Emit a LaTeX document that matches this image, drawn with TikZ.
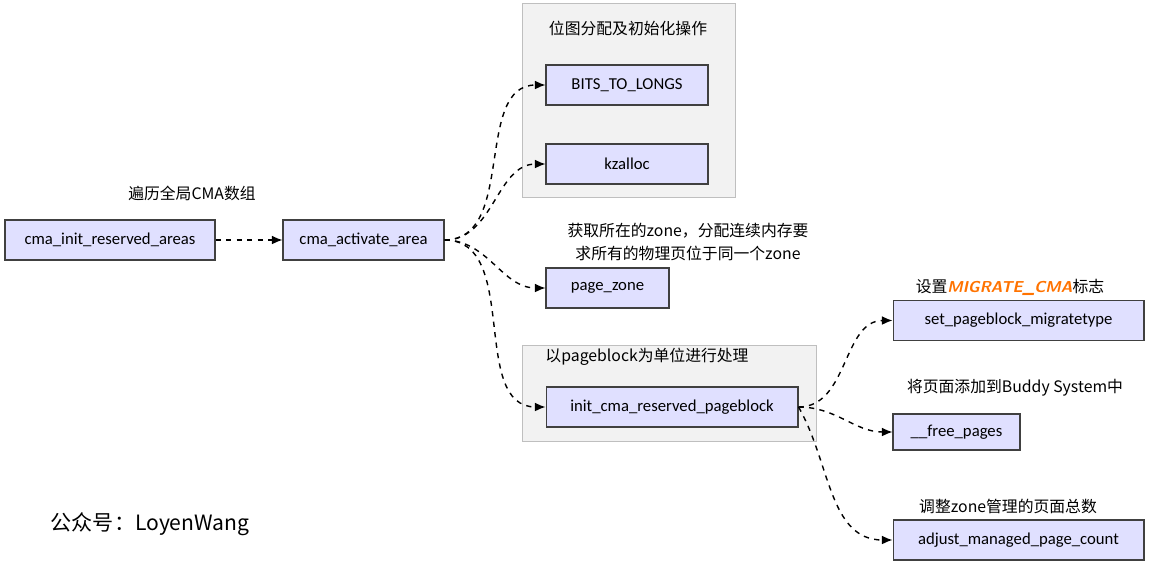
\documentclass[tikz,border=0pt]{standalone}
\usepackage{fontspec}
\setmainfont{Carlito}
\newfontfamily\cjk{Noto Sans CJK SC}
\usetikzlibrary{arrows.meta}
\begin{document}
\begin{tikzpicture}[x=0.02cm,y=-0.02cm,
  fn/.style={draw=black!75,fill=blue!12!white,line width=0.6pt,minimum height=0.8cm,inner sep=0pt,font=\fontsize{9.5}{11}\selectfont},
  grp/.style={draw=black!25,fill=black!5},
  lbl/.style={font=\cjk\fontsize{9}{13}\selectfont,align=center},
  arr/.style={dashed,line width=0.8pt,-{Latex[length=6pt,width=5pt]}}]
\useasboundingbox (0,0) rectangle (1152,566);
\fill[white] (0,0) rectangle (1152,566);
\draw[grp] (522,3) rectangle (735,197);
\draw[grp] (522,345) rectangle (816,441);
\node[lbl] (t1) at (628,28) {位图分配及初始化操作};
\node[lbl] (t2) at (647,357) {以pageblock为单位进行处理};
\node[fn,minimum width=4.2cm] (init) at (110,240) {cma\_init\_reserved\_areas};
\node[fn,minimum width=3.22cm] (act) at (363.5,240) {cma\_activate\_area};
\node[fn,minimum width=3.24cm] (bits) at (627,85) {BITS\_TO\_LONGS};
\node[fn,minimum width=3.24cm] (kz) at (627,164) {kzalloc};
\node[fn,minimum width=2.46cm] (pz) at (607.5,288) {page\_zone};
\node[fn,minimum width=5.04cm] (icrp) at (672,407) {init\_cma\_reserved\_pageblock};
\node[fn,minimum width=5.02cm] (spm) at (1018.5,320.5) {set\_pageblock\_migratetype};
\node[fn,minimum width=2.54cm,minimum height=0.72cm] (fp) at (956.5,432) {\_\_free\_pages};
\node[fn,minimum width=5.02cm] (amp) at (1018.5,540) {adjust\_managed\_page\_count};
\node[lbl] (l0) at (192,193) {遍历全局CMA数组};
\node[lbl] (l1) at (688,242) {获取所在的zone，分配连续内存要\\求所有的物理页位于同一个zone};
\node[lbl] (l2) at (1010,287) {设置{\sffamily\bfseries\itshape\color{orange!90!red}MIGRATE\_CMA}标志};
\node[lbl] (l3) at (1015,388) {将页面添加到Buddy System中};
\node[lbl] (l4) at (1008,506) {调整zone管理的页面总数};
\node[font=\cjk\fontsize{12}{14}\selectfont] (wm) at (150,524) {公众号：LoyenWang};
\draw[arr] (init) -- (act);
\draw[arr] (act.east) to[out=0,in=180] (bits.west);
\draw[arr] (act.east) to[out=0,in=180] (kz.west);
\draw[arr] (act.east) to[out=0,in=180] (pz.west);
\draw[arr] (act.east) to[out=0,in=180] (icrp.west);
\draw[arr] (icrp.east) to[out=0,in=180] (spm.west);
\draw[arr] (icrp.east) to[out=0,in=180] (fp.west);
\draw[arr] (icrp.east) to[out=-60,in=180] (amp.west);
\end{tikzpicture}
\end{document}
